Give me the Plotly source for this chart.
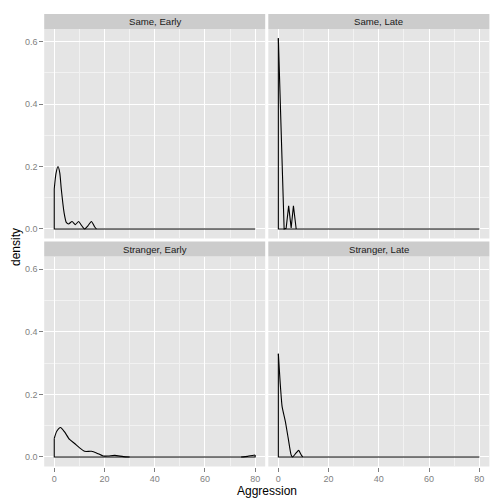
import plotly.graph_objects as go

# density curves (Aggression vs density)
panel_titles = ["Same, Early", "Same, Late", "Stranger, Early", "Stranger, Late"]

same_early_x = [0, 0.7, 1.5, 2.2, 2.8, 3.9, 4.8, 5.7, 7.1, 8.4, 9.7, 10.8, 12.1, 13.4, 14.8, 16.0, 16.8, 80]
same_early_y = [0.128, 0.178, 0.200, 0.180, 0.128, 0.053, 0.021, 0.016, 0.024, 0.014, 0.024, 0.012, 0.0, 0.010, 0.024, 0.008, 0.0, 0.0]

same_late_x = [0, 2.3, 3.1, 4.1, 5.1, 6.0, 7.1, 80]
same_late_y = [0.611, 0.0, 0.002, 0.074, 0.003, 0.074, 0.0, 0.0]

stranger_early_x = [0, 1.0, 2.5, 4.1, 6.1, 8.1, 10.1, 12.1, 14.8, 16.8, 19.5, 21.5, 24.1, 27.5, 30, 74.4, 77, 80]
stranger_early_y = [0.059, 0.082, 0.094, 0.080, 0.056, 0.043, 0.029, 0.018, 0.018, 0.013, 0.003, 0.003, 0.005, 0.001, 0.0, 0.0, 0.002, 0.006]

stranger_late_x = [0, 0.7, 1.5, 2.8, 3.9, 5.1, 5.7, 7.0, 8.1, 9.0, 9.7, 80]
stranger_late_y = [0.330, 0.240, 0.161, 0.113, 0.061, 0.006, 0.0, 0.012, 0.021, 0.008, 0.0, 0.0]

x_ticks = [0, 20, 40, 60, 80]
x_minor = [10, 30, 50, 70]
y_ticks = [0.0, 0.2, 0.4, 0.6]
y_minor = [0.1, 0.3, 0.5]

curves = [(same_early_x, same_early_y), (same_late_x, same_late_y),
          (stranger_early_x, stranger_early_y), (stranger_late_x, stranger_late_y)]
smooth = [0.6, 0, 0.6, 0.5]

# the page body has an 8px margin, so draw on a 496px canvas and shift by 8
OFF = 8
W = H = 504 - OFF
# panel boxes in reference pixels (left, right), (top, bottom)
cols = [(44.2, 265.2), (268.3, 489.4)]
rows = [(29.0, 238.5), (256.6, 466.5)]
strip_h = 15


def px_x(v):
    return (v - OFF) / W


def px_y(v):
    return (H - (v - OFF)) / H


def segments(xs, ys):
    # break the curve on long flat zero stretches so the spline stays on the baseline
    segs, cur = [], [0]
    for k in range(1, len(xs)):
        if xs[k] - xs[k - 1] > 10 and ys[k] == 0 and ys[k - 1] == 0:
            segs.append(cur)
            cur = [k]
        else:
            cur.append(k)
    segs.append(cur)
    return segs


fig = go.Figure()

for i, (xs, ys) in enumerate(curves):
    r, c = divmod(i, 2)
    n = "" if i == 0 else str(i + 1)
    # geom_density outline: vertical edges + baseline
    fig.add_trace(go.Scatter(x=[xs[-1], xs[-1], xs[0], xs[0]], y=[ys[-1], 0, 0, ys[0]],
                             mode="lines", xaxis="x" + n, yaxis="y" + n,
                             line=dict(color="black", width=1.1), showlegend=False,
                             hoverinfo="skip"))
    if smooth[i]:
        ln = dict(color="black", width=1.1, shape="spline", smoothing=smooth[i])
    else:
        ln = dict(color="black", width=1.1)
    for seg in segments(xs, ys):
        if len(seg) < 2:
            continue
        fig.add_trace(go.Scatter(x=[xs[k] for k in seg], y=[ys[k] for k in seg], mode="lines",
                                 xaxis="x" + n, yaxis="y" + n,
                                 line=ln, showlegend=False, hoverinfo="skip"))
    l, rr = cols[c]
    t, b = rows[r]
    fig.layout["xaxis" + n] = dict(
        domain=[px_x(l), px_x(rr)], range=[-4, 84], anchor="y" + n,
        tickvals=x_ticks, showticklabels=(r == 1), ticks="outside" if r == 1 else "",
        ticklen=4, tickcolor="#7F7F7F", tickfont=dict(size=9, color="#7F7F7F"),
        showgrid=True, gridcolor="white", gridwidth=1.3, zeroline=False, showline=False,
        minor=dict(tickvals=x_minor, showgrid=True, gridcolor="#F2F2F2", gridwidth=0.6, ticks=""),
    )
    fig.layout["yaxis" + n] = dict(
        domain=[px_y(b), px_y(t)], range=[-0.0305, 0.6405], anchor="x" + n,
        tickvals=y_ticks, ticktext=["0.0", "0.2", "0.4", "0.6"],
        showticklabels=(c == 0), ticks="outside" if c == 0 else "",
        ticklen=4, tickcolor="#7F7F7F", tickfont=dict(size=9, color="#7F7F7F"),
        showgrid=True, gridcolor="white", gridwidth=1.3, zeroline=False, showline=False,
        minor=dict(tickvals=y_minor, showgrid=True, gridcolor="#F2F2F2", gridwidth=0.6, ticks=""),
    )
    # strip
    fig.add_shape(type="rect", xref="paper", yref="paper",
                  x0=px_x(l), x1=px_x(rr), y0=px_y(t), y1=px_y(t - strip_h),
                  fillcolor="#CCCCCC", line=dict(width=0), layer="below")
    fig.add_annotation(text=panel_titles[i], xref="paper", yref="paper",
                       x=px_x((l + rr) / 2), y=px_y(t - strip_h / 2),
                       xanchor="center", yanchor="middle",
                       showarrow=False, font=dict(size=9.6, color="#1A1A1A"))

fig.add_annotation(text="Aggression", xref="paper", yref="paper", x=px_x(266.7), y=px_y(490.5),
                   xanchor="center", yanchor="middle",
                   showarrow=False, font=dict(size=12, color="black"))
fig.add_annotation(text="density", xref="paper", yref="paper", x=px_x(16), y=px_y(247),
                   xanchor="center", yanchor="middle",
                   showarrow=False, textangle=-90, font=dict(size=12, color="black"))

fig.update_layout(
    width=W, height=H,
    margin=dict(l=0, r=0, t=0, b=0),
    plot_bgcolor="#E5E5E5", paper_bgcolor="white",
    font=dict(family="Liberation Sans, Arial, sans-serif"),
)

fig.write_html("out.html")
